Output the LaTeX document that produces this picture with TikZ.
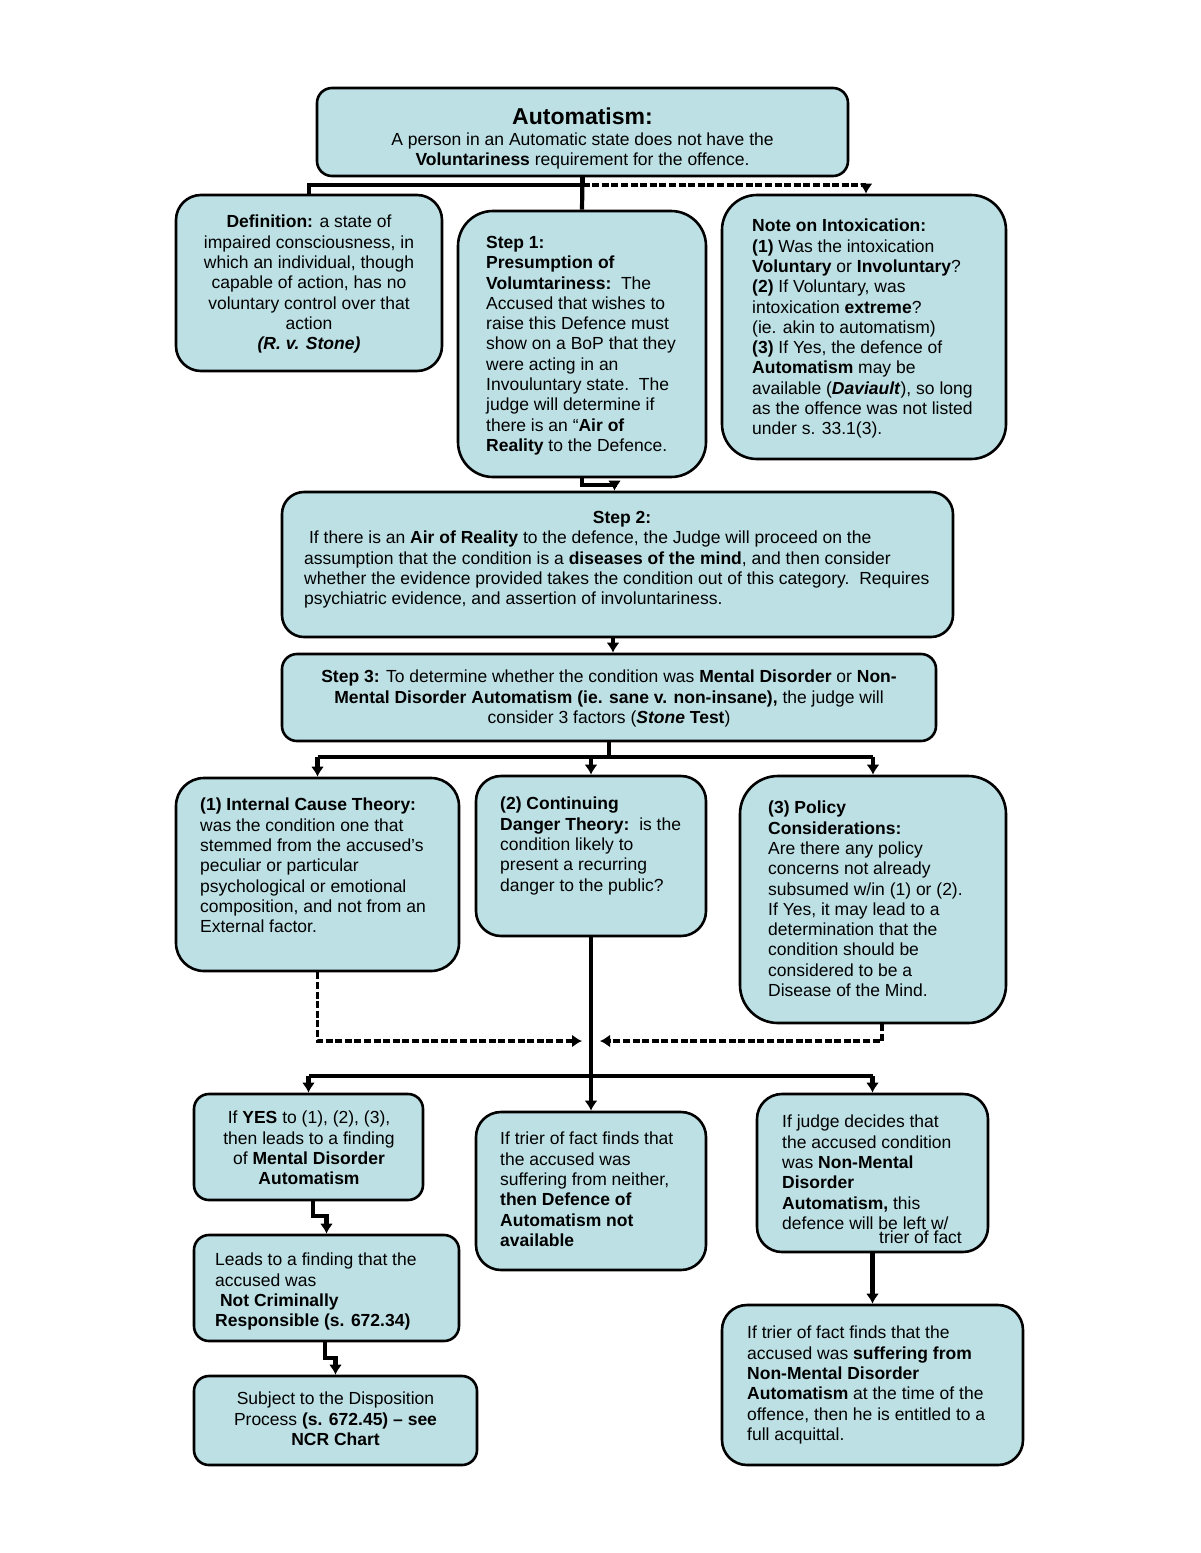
\documentclass[tikz,border=0pt]{standalone}
\usepackage{fontspec}
\setmainfont{Liberation Sans}
\usetikzlibrary{arrows.meta}
\definecolor{boxfill}{RGB}{188,224,228}
\tikzset{
  box/.style={draw=black, line width=2.6pt, fill=boxfill, inner sep=0pt, rectangle},
  txt/.style={inner sep=0pt, font=\fontsize{17.5}{20.3}\selectfont},
  conn/.style={draw=black, line width=4.2pt, line join=miter},
  dotline/.style={draw=black, line width=3.8pt, dash pattern=on 7pt off 2.6pt},
  tip/.tip={Latex[length=10pt,width=13pt]}
}
\begin{document}
\begin{tikzpicture}[x=1pt,y=-1pt]
\useasboundingbox (0,0) rectangle (1200,1553);

% boxes
\node[box, rounded corners=15pt, minimum width=531pt, minimum height=88pt] (top) at (582.5,132) {};
\node[box, rounded corners=25pt, minimum width=266pt, minimum height=176pt] (def) at (309,283) {};
\node[box, rounded corners=35pt, minimum width=248pt, minimum height=266pt] (step1) at (582,344) {};
\node[box, rounded corners=35pt, minimum width=284pt, minimum height=264pt] (note) at (864,327) {};
\node[box, rounded corners=22pt, minimum width=671pt, minimum height=145pt] (step2) at (617.5,564.5) {};
\node[box, rounded corners=15pt, minimum width=654pt, minimum height=87pt] (step3) at (609,697.5) {};
\node[box, rounded corners=28pt, minimum width=283pt, minimum height=193pt] (c1) at (317.5,874.5) {};
\node[box, rounded corners=25pt, minimum width=230pt, minimum height=160pt] (c2) at (591,856) {};
\node[box, rounded corners=38pt, minimum width=266pt, minimum height=247pt] (c3) at (873,899.5) {};
\node[box, rounded corners=15pt, minimum width=229pt, minimum height=106pt] (yes) at (308.5,1147) {};
\node[box, rounded corners=25pt, minimum width=230pt, minimum height=158pt] (neither) at (591,1191) {};
\node[box, rounded corners=25pt, minimum width=231pt, minimum height=158pt] (judge) at (872.5,1173) {};
\node[box, rounded corners=15pt, minimum width=265pt, minimum height=106pt] (leads) at (326.5,1288) {};
\node[box, rounded corners=15pt, minimum width=283pt, minimum height=89pt] (subject) at (335.5,1420.5) {};
\node[box, rounded corners=25pt, minimum width=301pt, minimum height=160pt] (acquit) at (872.5,1385) {};

% texts
\node[txt, anchor=north, align=center] (toptxt) at (582.5,108) {{\fontsize{23}{26}\selectfont\bfseries Automatism:}\\
A person in an Automatic state does not have the\\
\textbf{Voluntariness} requirement for the offence.};

\node[txt, anchor=north, align=center] (deftxt) at (309,215) {\textbf{Definition:} a state of\\
impaired consciousness, in\\
which an individual, though\\
capable of action, has no\\
voluntary control over that\\
action\\
\textbf{\textit{(R. v. Stone)}}};

\node[txt, anchor=north west, align=left] (step1txt) at (486,236) {\textbf{Step 1:}\\
\textbf{Presumption of}\\
\textbf{Volumtariness:}\ \ The\\
Accused that wishes to\\
raise this Defence must\\
show on a BoP that they\\
were acting in an\\
Invouluntary state.\ \ The\\
judge will determine if\\
there is an “\textbf{Air of}\\
\textbf{Reality} to the Defence.};

\node[txt, anchor=north west, align=left] (notetxt) at (752,219) {\textbf{Note on Intoxication:}\\
\textbf{(1)} Was the intoxication\\
\textbf{Voluntary} or \textbf{Involuntary}?\\
\textbf{(2)} If Voluntary, was\\
intoxication \textbf{extreme}?\\
(ie. akin to automatism)\\
\textbf{(3)} If Yes, the defence of\\
\textbf{Automatism} may be\\
available (\textbf{\textit{Daviault}}), so long\\
as the offence was not listed\\
under s. 33.1(3).};

\node[txt, anchor=north, align=center] (step2hd) at (622,511) {\textbf{Step 2:}};
\node[txt, anchor=north west, align=left] (step2txt) at (304,531) {\ If there is an \textbf{Air of Reality} to the defence, the Judge will proceed on the\\
assumption that the condition is a \textbf{diseases of the mind}, and then consider\\
whether the evidence provided takes the condition out of this category.\ \ Requires\\
psychiatric evidence, and assertion of involuntariness.};

\node[txt, anchor=north, align=center] (step3txt) at (609,670) {\textbf{Step 3:} To determine whether the condition was \textbf{Mental Disorder} or \textbf{Non-}\\
\textbf{Mental Disorder Automatism (ie. sane v. non-insane),} the judge will\\
consider 3 factors (\textbf{\textit{Stone}} \textbf{Test})};

\node[txt, anchor=north west, align=left] (c1txt) at (200,798) {\textbf{(1) Internal Cause Theory:}\\
was the condition one that\\
stemmed from the accused’s\\
peculiar or particular\\
psychological or emotional\\
composition, and not from an\\
External factor.};

\node[txt, anchor=north west, align=left] (c2txt) at (500,797) {\textbf{(2) Continuing}\\
\textbf{Danger Theory:}\ \ is the\\
condition likely to\\
present a recurring\\
danger to the public?};

\node[txt, anchor=north west, align=left] (c3txt) at (768,801) {\textbf{(3) Policy}\\
\textbf{Considerations:}\\
Are there any policy\\
concerns not already\\
subsumed w/in (1) or (2).\\
If Yes, it may lead to a\\
determination that the\\
condition should be\\
considered to be a\\
Disease of the Mind.};

\node[txt, anchor=north, align=center] (yestxt) at (309,1111) {If \textbf{YES} to (1), (2), (3),\\
then leads to a finding\\
of \textbf{Mental Disorder}\\
\textbf{Automatism}};

\node[txt, anchor=north west, align=left] (neithertxt) at (500,1132) {If trier of fact finds that\\
the accused was\\
suffering from neither,\\
\textbf{then Defence of}\\
\textbf{Automatism not}\\
\textbf{available}};

\node[txt, anchor=north west, align=left] (judgetxt) at (782,1115) {If judge decides that\\
the accused condition\\
was \textbf{Non-Mental}\\
\textbf{Disorder}\\
\textbf{Automatism,} this\\
defence will be left w/};
\node[txt, anchor=north west, align=left] (judgetail) at (879,1231) {trier of fact};

\node[txt, anchor=north west, align=left] (leadstxt) at (215,1253) {Leads to a finding that the\\
accused was\\
\ \textbf{Not Criminally}\\
\textbf{Responsible (s. 672.34)}};

\node[txt, anchor=north, align=center] (subjecttxt) at (335.5,1392) {Subject to the Disposition\\
Process \textbf{(s. 672.45) – see}\\
\textbf{NCR Chart}};

\node[txt, anchor=north west, align=left] (acquittxt) at (747,1326) {If trier of fact finds that the\\
accused was \textbf{suffering from}\\
\textbf{Non-Mental Disorder}\\
\textbf{Automatism} at the time of the\\
offence, then he is entitled to a\\
full acquittal.};

% junctions
\coordinate (t0) at (582,185);
\coordinate (t3) at (608,757);
\coordinate (t4) at (591,1076);
\coordinate (d1) at (582,1041);
\coordinate (d2) at (600,1041);

% connectors
\draw[conn] (top.south) -- (top.south |- t0) -| (def.north);
\draw[conn] (top.south) -- (step1.north);
\draw[dotline, -tip] (top.south |- t0) -| ([xshift=2]note.north);
\draw[conn, -tip] (step1.south) -- ++(0,7) -| ([xshift=-3]step2.north);
\draw[conn, -tip] ([xshift=-4.5]step2.south) -- ([xshift=-4.5]step2.south |- step3.north);
\draw[conn] (step3.south) -- (step3.south |- t3);
\draw[conn] (c1.north |- t3) -- (c3.north |- t3);
\draw[conn, -tip] (c1.north |- t3) -- (c1.north);
\draw[conn, -tip] (c2.north |- t3) -- (c2.north);
\draw[conn, -tip] (c3.north |- t3) -- (c3.north);
\draw[conn, -tip] (c2.south) -- (neither.north);
\draw[dotline, -tip] (c1.south) |- (d1);
\draw[dotline, -tip] ([xshift=9]c3.south) |- (d2);
\draw[conn] (yes.north |- t4) -- (judge.north |- t4);
\draw[conn, -tip] (yes.north |- t4) -- (yes.north);
\draw[conn, -tip] (judge.north |- t4) -- (judge.north);
\draw[conn, -tip] ([xshift=4.5]yes.south) -- ++(0,15) -| (leads.north);
\draw[conn, -tip] ([xshift=-1.5]leads.south) -- ++(0,16) -| (subject.north);
\draw[conn, -tip] (judge.south) -- (acquit.north);
\end{tikzpicture}
\end{document}
